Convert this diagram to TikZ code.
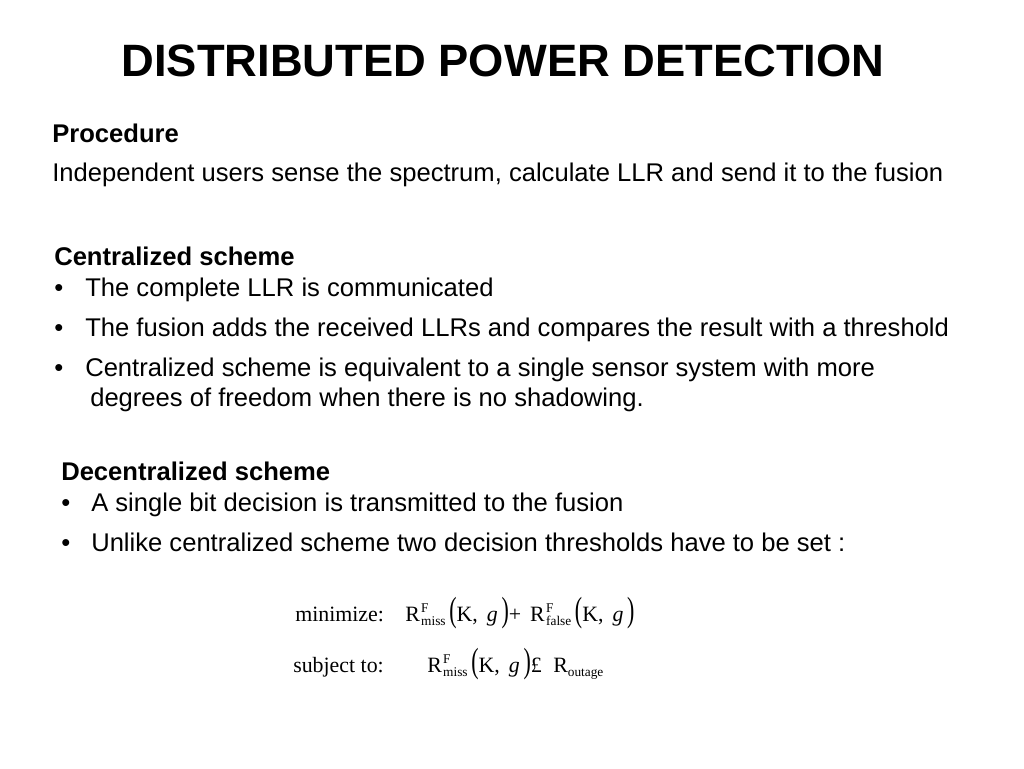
\documentclass[tikz,border=0pt]{standalone}
\usepackage{fontspec}
\setmainfont{Liberation Sans}
\newfontfamily\serif{Liberation Serif}
\usepackage{graphicx}
\newcommand{\RR}[3]{R\kern1pt\rlap{\raisebox{.8ex}{\fontsize{10}{10}\selectfont #1}}\raisebox{-.45ex}{\fontsize{10}{10}\selectfont #2}#3}
\newcommand{\BP}[1]{\scalebox{1}[1.6]{#1}}
\begin{document}
\begin{tikzpicture}[x=0.75pt,y=-0.75pt,
  txt/.style={anchor=base west,inner sep=0,font=\fontsize{19.2}{22}\selectfont},
  hd/.style={txt,font=\fontsize{19.2}{22}\selectfont\bfseries},
  fm/.style={anchor=base west,inner sep=0,font=\serif\fontsize{16.4}{19}\selectfont}]
\useasboundingbox (0,0) rectangle (1024,768);
\node[anchor=base,inner sep=0,font=\fontsize{34}{38}\selectfont\bfseries] (title) at (503,76) {DISTRIBUTED POWER DETECTION};
\node[hd] (p) at (52,142) {Procedure};
\node[txt] (p1) at (52,181) {Independent users sense the spectrum, calculate LLR and send it to the fusion};
\node[hd] (c) at (54,265) {Centralized scheme};
\node[txt] (cb1) at (54,296) {\textbullet};
\node[txt] (c1) at (85,296) {The complete LLR is communicated};
\node[txt] (cb2) at (54,336) {\textbullet};
\node[txt] (c2) at (85,336) {The fusion adds the received LLRs and compares the result with a threshold};
\node[txt] (cb3) at (54,376) {\textbullet};
\node[txt] (c3) at (85,376) {Centralized scheme is equivalent to a single sensor system with more};
\node[txt] (c4) at (90,406) {degrees of freedom when there is no shadowing.};
\node[hd] (d) at (61,480) {Decentralized scheme};
\node[txt] (db1) at (61,511) {\textbullet};
\node[txt] (d1) at (91,511) {A single bit decision is transmitted to the fusion};
\node[txt] (db2) at (61,551) {\textbullet};
\node[txt] (d2) at (91,551) {Unlike centralized scheme two decision thresholds have to be set :};
\node[fm] (m1) at (295,621) {minimize:};
\node[fm] (m2) at (405,621) {\RR{F}{miss}{}\,\BP{(}K,\, \textit{g}\,\BP{)}+\, \RR{F}{false}{}\,\BP{(}K,\, \textit{g}\,\BP{)}};
\node[fm] (s1) at (293,672) {subject to:};
\node[fm] (s2) at (427,672) {\RR{F}{miss}{}\,\BP{(}K,\, \textit{g}\,\BP{)}£\; R\raisebox{-.45ex}{\fontsize{10}{10}\selectfont outage}};
\end{tikzpicture}
\end{document}
